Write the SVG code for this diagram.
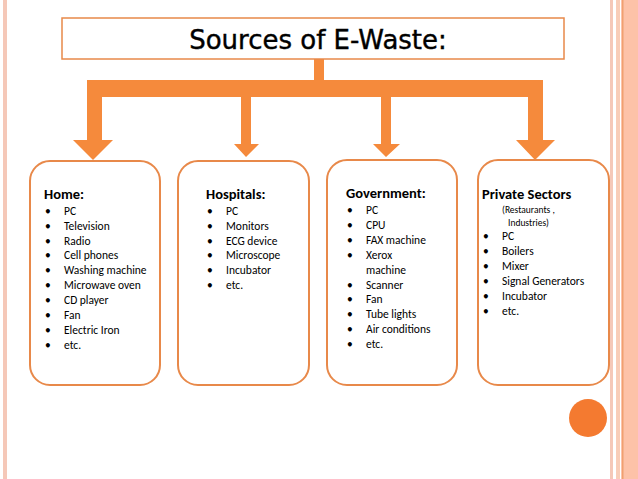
<svg xmlns="http://www.w3.org/2000/svg" width="638" height="479" viewBox="0 0 638 479">
<style>
.box{fill:#fff;stroke:#e8894a;stroke-width:2}
.arr{fill:#f58a3c}
.h{font-family:Carlito,"Liberation Sans",sans-serif;font-weight:bold;font-size:14.5px;fill:#000}
.t{font-family:Carlito,"Liberation Sans",sans-serif;font-size:11.5px;fill:#000}
.s{font-family:Carlito,"Liberation Sans",sans-serif;font-size:9.5px;fill:#000}
</style>
<rect width="638" height="479" fill="#fff"/>
<rect x="3" y="0" width="4" height="479" fill="#f5c8b8"/>
<rect x="610" y="0" width="3" height="479" fill="#f5c8b8"/>
<rect x="616" y="0" width="4" height="479" fill="#f8cdb8"/>
<rect x="621" y="0" width="17" height="479" fill="#fdc2a8"/>
<rect x="622" y="0" width="1.5" height="479" fill="#f0a070"/>
<g id="connectors">
<polygon class="arr" points="314,59 324,59 324,80 543,80 543,140 555,140 535,160 516,140 528,140 528,97 391,97 391,144 400,144 386,157 373,144 381,144 381,97 251,97 251,144 259,144 246,157 234,144 241,144 241,97 102,97 102,140 113,140 93,160 73,140 87,140 87,80 314,80"/>
</g>
<g id="title">
<rect x="62" y="18" width="502" height="41" fill="#fff" stroke="#e8894a" stroke-width="1.5"/>
<text x="318" y="49" text-anchor="middle" font-family="'DejaVu Sans',sans-serif" font-size="26" fill="#000" stroke="#000" stroke-width="0.4">Sources of E-Waste:</text>
</g>
<g id="home">
<rect class="box" x="30" y="161" width="130" height="224" rx="20"/>
<text class="h" x="44" y="199">Home:</text>
<g class="t">
<text x="45" y="215">•</text><text x="64" y="215">PC</text>
<text x="45" y="230">•</text><text x="64" y="230">Television</text>
<text x="45" y="245">•</text><text x="64" y="245">Radio</text>
<text x="45" y="259">•</text><text x="64" y="259">Cell phones</text>
<text x="45" y="274">•</text><text x="64" y="274">Washing machine</text>
<text x="45" y="289">•</text><text x="64" y="289">Microwave oven</text>
<text x="45" y="304">•</text><text x="64" y="304">CD player</text>
<text x="45" y="319">•</text><text x="64" y="319">Fan</text>
<text x="45" y="334">•</text><text x="64" y="334">Electric Iron</text>
<text x="45" y="349">•</text><text x="64" y="349">etc.</text>
</g>
</g>
<g id="hospitals">
<rect class="box" x="178" y="161" width="131" height="224" rx="20"/>
<text class="h" x="206" y="199">Hospitals:</text>
<g class="t">
<text x="207" y="215">•</text><text x="226" y="215">PC</text>
<text x="207" y="230">•</text><text x="226" y="230">Monitors</text>
<text x="207" y="245">•</text><text x="226" y="245">ECG device</text>
<text x="207" y="259">•</text><text x="226" y="259">Microscope</text>
<text x="207" y="274">•</text><text x="226" y="274">Incubator</text>
<text x="207" y="289">•</text><text x="226" y="289">etc.</text>
</g>
</g>
<g id="government">
<rect class="box" x="327" y="160" width="130" height="225" rx="20"/>
<text class="h" x="346" y="198">Government:</text>
<g class="t">
<text x="347" y="214">•</text><text x="366" y="214">PC</text>
<text x="347" y="229">•</text><text x="366" y="229">CPU</text>
<text x="347" y="244">•</text><text x="366" y="244">FAX machine</text>
<text x="347" y="259">•</text><text x="366" y="259">Xerox</text>
<text x="366" y="274">machine</text>
<text x="347" y="289">•</text><text x="366" y="289">Scanner</text>
<text x="347" y="303">•</text><text x="366" y="303">Fan</text>
<text x="347" y="318">•</text><text x="366" y="318">Tube lights</text>
<text x="347" y="333">•</text><text x="366" y="333">Air conditions</text>
<text x="347" y="348">•</text><text x="366" y="348">etc.</text>
</g>
</g>
<g id="private">
<rect class="box" x="478" y="160" width="131" height="225" rx="20"/>
<text class="h" x="482" y="199">Private Sectors</text>
<text class="s" x="502" y="213">(Restaurants ,</text>
<text class="s" x="508" y="226">Industries)</text>
<g class="t">
<text x="483" y="240">•</text><text x="502" y="240">PC</text>
<text x="483" y="255">•</text><text x="502" y="255">Boilers</text>
<text x="483" y="270">•</text><text x="502" y="270">Mixer</text>
<text x="483" y="285">•</text><text x="502" y="285">Signal Generators</text>
<text x="483" y="300">•</text><text x="502" y="300">Incubator</text>
<text x="483" y="315">•</text><text x="502" y="315">etc.</text>
</g>
</g>
<circle cx="588" cy="418" r="19" fill="#f47a30"/>
</svg>
